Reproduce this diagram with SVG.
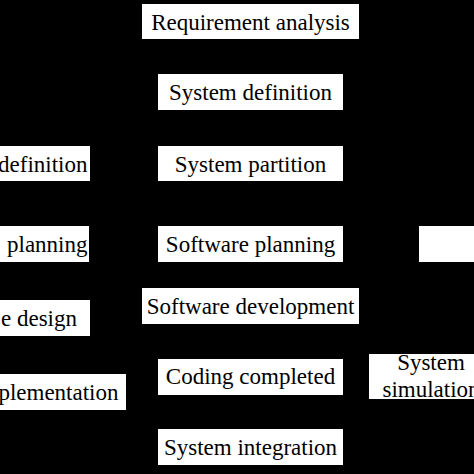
<svg xmlns="http://www.w3.org/2000/svg" width="474" height="474" viewBox="0 0 474 474">
<style>
.box{fill:#ffffff;stroke:none}
.t{font-family:"Liberation Serif","Times New Roman",serif;font-size:23px;fill:#000000}
.c{text-anchor:middle}
.e{text-anchor:end}
.conn{stroke:#000000;stroke-width:1.2;fill:none}
</style>
<rect x="0" y="0" width="474" height="474" fill="#000000"/>
<g id="connectors">
<line class="conn" x1="250.5" y1="39" x2="250.5" y2="74"/>
<line class="conn" x1="250.5" y1="110" x2="250.5" y2="146"/>
<line class="conn" x1="250.5" y1="181" x2="250.5" y2="226"/>
<line class="conn" x1="250.5" y1="262" x2="250.5" y2="288"/>
<line class="conn" x1="250.5" y1="324" x2="250.5" y2="359"/>
<line class="conn" x1="250.5" y1="395" x2="250.5" y2="429"/>
</g>
<g id="requirement-analysis">
<rect class="box" x="142" y="4" width="217" height="35"/>
<text class="t c" x="250.5" y="29.5">Requirement analysis</text>
</g>
<g id="system-definition">
<rect class="box" x="158" y="74" width="185" height="36"/>
<text class="t c" x="250.5" y="100">System definition</text>
</g>
<g id="hardware-definition">
<rect class="box" x="-10" y="146" width="100" height="35"/>
<text class="t e" x="87.5" y="171.5">definition</text>
</g>
<g id="system-partition">
<rect class="box" x="158" y="146" width="185" height="35"/>
<text class="t c" x="250.5" y="171.5">System partition</text>
</g>
<g id="hardware-planning">
<rect class="box" x="-10" y="226" width="99" height="36"/>
<text class="t e" x="87.5" y="252">planning</text>
</g>
<g id="software-planning">
<rect class="box" x="158" y="226" width="185" height="36"/>
<text class="t c" x="250.5" y="252">Software planning</text>
</g>
<g id="right-box">
<rect class="box" x="419" y="226" width="65" height="36"/>
</g>
<g id="software-development">
<rect class="box" x="142" y="288" width="217" height="36"/>
<text class="t c" x="250.5" y="314">Software development</text>
</g>
<g id="hardware-design">
<rect class="box" x="-10" y="300" width="100" height="36"/>
<text class="t e" x="77" y="326">e design</text>
</g>
<g id="coding-completed">
<rect class="box" x="158" y="359" width="185" height="36"/>
<text class="t c" x="250.5" y="384">Coding completed</text>
</g>
<g id="system-simulation">
<rect class="box" x="369" y="354" width="115" height="45"/>
<text class="t c" x="431" y="370">System</text>
<text class="t c" x="431" y="397">simulation</text>
</g>
<g id="hardware-implementation">
<rect class="box" x="-10" y="374" width="136" height="36"/>
<text class="t e" x="118.5" y="400">plementation</text>
</g>
<g id="system-integration">
<rect class="box" x="158" y="429" width="185" height="36"/>
<text class="t c" x="250.5" y="455">System integration</text>
</g>
</svg>
